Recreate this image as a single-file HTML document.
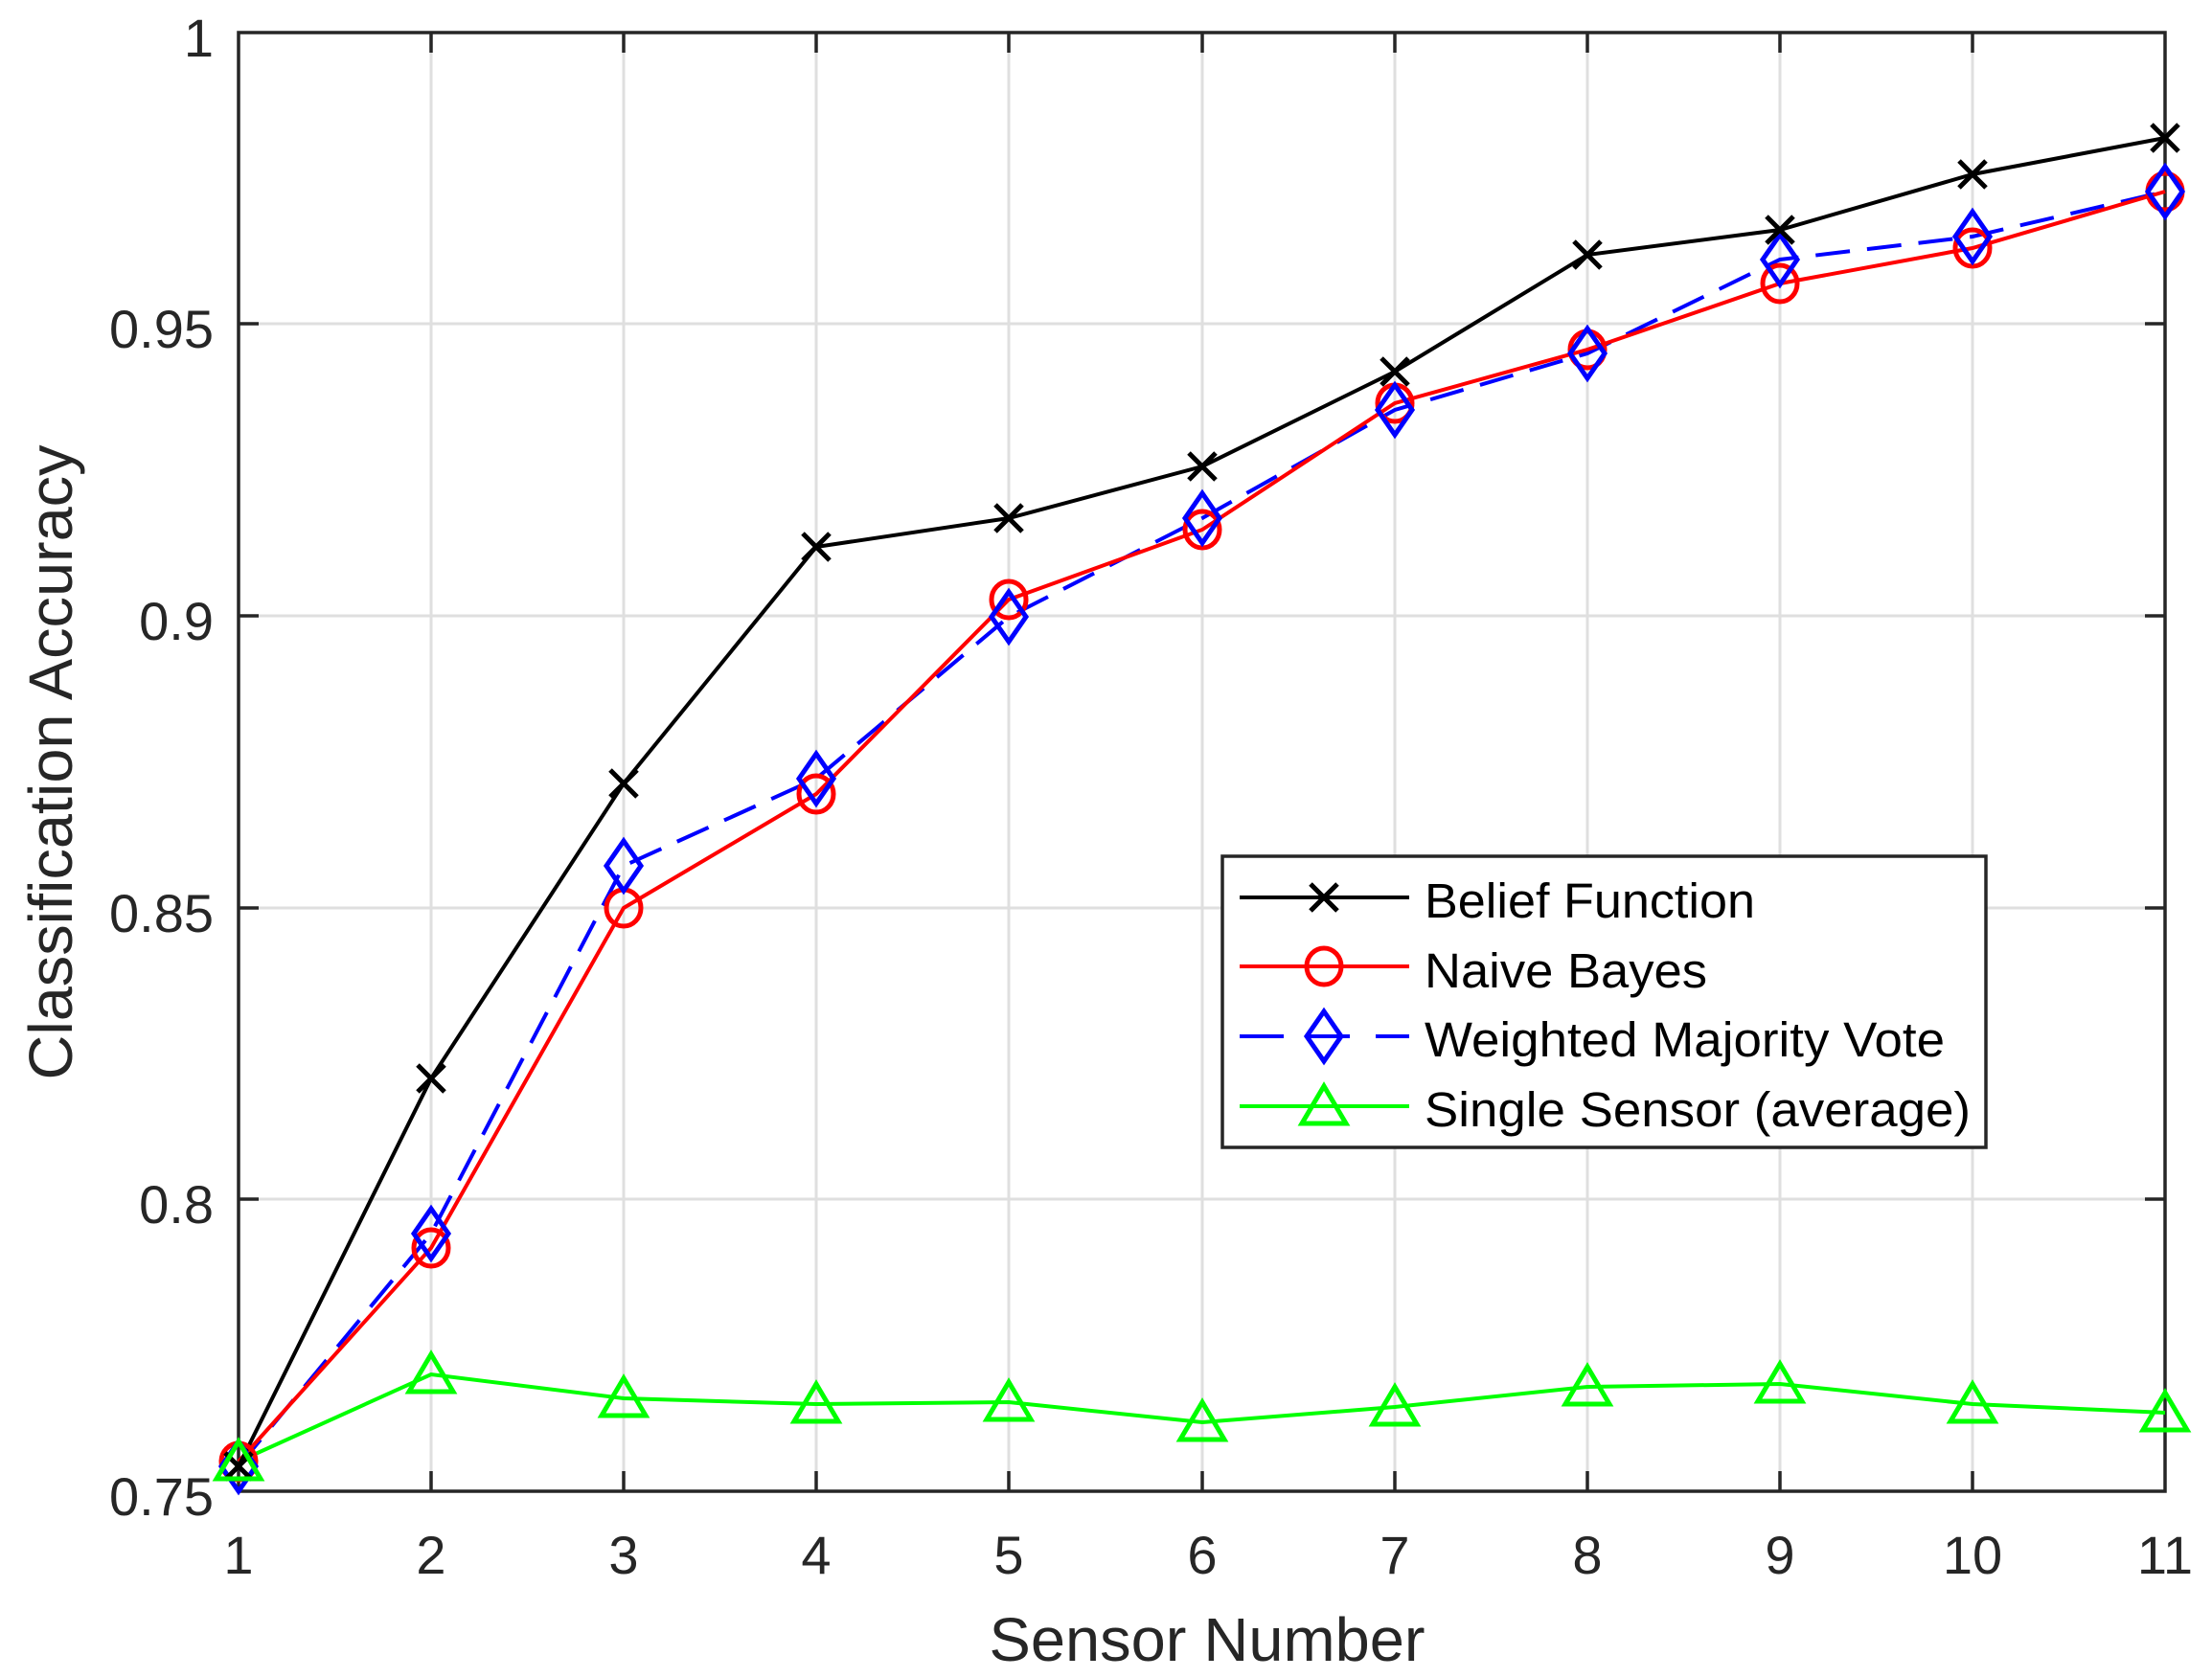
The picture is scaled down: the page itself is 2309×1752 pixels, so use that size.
<!DOCTYPE html>
<html><head><meta charset="utf-8"><style>html,body{margin:0;padding:0;background:#fff}svg{display:block}</style></head>
<body>
<svg width="2309" height="1752" viewBox="0 0 2309 1752" xmlns="http://www.w3.org/2000/svg" font-family="Liberation Sans, Arial, sans-serif">
<rect width="2309" height="1752" fill="#fff"/>
<g stroke="#dfdfdf" stroke-width="3">
<line x1="450" y1="34" x2="450" y2="1557"/><line x1="651" y1="34" x2="651" y2="1557"/><line x1="852" y1="34" x2="852" y2="1557"/><line x1="1053" y1="34" x2="1053" y2="1557"/><line x1="1255" y1="34" x2="1255" y2="1557"/><line x1="1456" y1="34" x2="1456" y2="1557"/><line x1="1657" y1="34" x2="1657" y2="1557"/><line x1="1858" y1="34" x2="1858" y2="1557"/><line x1="2059" y1="34" x2="2059" y2="1557"/>
<line x1="249" y1="1252" x2="2260" y2="1252"/><line x1="249" y1="948" x2="2260" y2="948"/><line x1="249" y1="643" x2="2260" y2="643"/><line x1="249" y1="338" x2="2260" y2="338"/>
</g>
<g stroke="#262626" stroke-width="3.5">
<line x1="450" y1="1557" x2="450" y2="1536"/><line x1="651" y1="1557" x2="651" y2="1536"/><line x1="852" y1="1557" x2="852" y2="1536"/><line x1="1053" y1="1557" x2="1053" y2="1536"/><line x1="1255" y1="1557" x2="1255" y2="1536"/><line x1="1456" y1="1557" x2="1456" y2="1536"/><line x1="1657" y1="1557" x2="1657" y2="1536"/><line x1="1858" y1="1557" x2="1858" y2="1536"/><line x1="2059" y1="1557" x2="2059" y2="1536"/>
<line x1="450" y1="34" x2="450" y2="55"/><line x1="651" y1="34" x2="651" y2="55"/><line x1="852" y1="34" x2="852" y2="55"/><line x1="1053" y1="34" x2="1053" y2="55"/><line x1="1255" y1="34" x2="1255" y2="55"/><line x1="1456" y1="34" x2="1456" y2="55"/><line x1="1657" y1="34" x2="1657" y2="55"/><line x1="1858" y1="34" x2="1858" y2="55"/><line x1="2059" y1="34" x2="2059" y2="55"/>
<line x1="249" y1="1252" x2="270" y2="1252"/><line x1="249" y1="948" x2="270" y2="948"/><line x1="249" y1="643" x2="270" y2="643"/><line x1="249" y1="338" x2="270" y2="338"/>
<line x1="2260" y1="1252" x2="2239" y2="1252"/><line x1="2260" y1="948" x2="2239" y2="948"/><line x1="2260" y1="643" x2="2239" y2="643"/><line x1="2260" y1="338" x2="2239" y2="338"/>
<rect x="249" y="34" width="2011" height="1523" fill="none"/>
</g>
<g fill="#262626" font-size="56" text-anchor="end">
<text x="223" y="1582">0.75</text><text x="223" y="1277">0.8</text><text x="223" y="973">0.85</text><text x="223" y="668">0.9</text><text x="223" y="363">0.95</text><text x="223" y="59">1</text>
</g>
<g fill="#262626" font-size="56" text-anchor="middle">
<text x="249" y="1643">1</text><text x="450" y="1643">2</text><text x="651" y="1643">3</text><text x="852" y="1643">4</text><text x="1053" y="1643">5</text><text x="1255" y="1643">6</text><text x="1456" y="1643">7</text><text x="1657" y="1643">8</text><text x="1858" y="1643">9</text><text x="2059" y="1643">10</text><text x="2260" y="1643">11</text>
</g>
<text x="1260" y="1734" fill="#262626" font-size="64" text-anchor="middle" textLength="455" lengthAdjust="spacingAndGlyphs">Sensor Number</text>
<text transform="translate(75,796) rotate(-90)" fill="#262626" font-size="64" text-anchor="middle" textLength="663" lengthAdjust="spacingAndGlyphs">Classification Accuracy</text>
<defs>
<g id="mx"><path d="M-14,-14L14,14M-14,14L14,-14" stroke="#000" stroke-width="5" fill="none"/></g>
<g id="mo"><ellipse cx="0" cy="0" rx="18" ry="19" stroke="#f00" stroke-width="5" fill="none"/></g>
<g id="md"><path d="M0,-26L18,0L0,26L-18,0Z" stroke="#00f" stroke-width="5" fill="none"/></g>
<g id="mt"><path d="M0,-21L23,18L-23,18Z" stroke="#0f0" stroke-width="5" fill="none"/></g>
</defs>
<polyline fill="none" stroke="#0f0" stroke-width="4" points="249,1526 450,1435 651,1460 852,1466 1053,1464 1255,1485 1456,1469 1657,1448 1858,1445 2059,1466 2260,1475"/>
<polyline fill="none" stroke="#00f" stroke-width="4" stroke-dasharray="36,18" points="249,1531 450,1288 651,904 852,813 1053,644 1255,541 1456,428 1657,369 1858,271 2059,247 2260,200"/>
<polyline fill="none" stroke="#f00" stroke-width="4" points="249,1526 450,1303 651,948 852,829 1053,626 1255,553 1456,421 1657,365 1858,296 2059,259 2260,200"/>
<polyline fill="none" stroke="#000" stroke-width="4" points="249,1531 450,1126 651,818 852,571 1053,541 1255,487 1456,388 1657,266 1858,240 2059,182 2260,144"/>
<g>
<use href="#mo" x="249" y="1526"/><use href="#mo" x="450" y="1303"/><use href="#mo" x="651" y="948"/><use href="#mo" x="852" y="829"/><use href="#mo" x="1053" y="626"/><use href="#mo" x="1255" y="553"/><use href="#mo" x="1456" y="421"/><use href="#mo" x="1657" y="365"/><use href="#mo" x="1858" y="296"/><use href="#mo" x="2059" y="259"/><use href="#mo" x="2260" y="200"/>
<use href="#md" x="249" y="1531"/><use href="#md" x="450" y="1288"/><use href="#md" x="651" y="904"/><use href="#md" x="852" y="813"/><use href="#md" x="1053" y="644"/><use href="#md" x="1255" y="541"/><use href="#md" x="1456" y="428"/><use href="#md" x="1657" y="369"/><use href="#md" x="1858" y="271"/><use href="#md" x="2059" y="247"/><use href="#md" x="2260" y="200"/>
<use href="#mx" x="249" y="1531"/><use href="#mx" x="450" y="1126"/><use href="#mx" x="651" y="818"/><use href="#mx" x="852" y="571"/><use href="#mx" x="1053" y="541"/><use href="#mx" x="1255" y="487"/><use href="#mx" x="1456" y="388"/><use href="#mx" x="1657" y="266"/><use href="#mx" x="1858" y="240"/><use href="#mx" x="2059" y="182"/><use href="#mx" x="2260" y="144"/>
<use href="#mt" x="249" y="1526"/><use href="#mt" x="450" y="1435"/><use href="#mt" x="651" y="1460"/><use href="#mt" x="852" y="1466"/><use href="#mt" x="1053" y="1464"/><use href="#mt" x="1255" y="1485"/><use href="#mt" x="1456" y="1469"/><use href="#mt" x="1657" y="1448"/><use href="#mt" x="1858" y="1445"/><use href="#mt" x="2059" y="1466"/><use href="#mt" x="2260" y="1475"/>
</g>
<rect x="1276" y="894" width="797" height="304" fill="#fff" stroke="#262626" stroke-width="3.5"/>
<line x1="1294" y1="937" x2="1471" y2="937" stroke="#000" stroke-width="4"/><use href="#mx" x="1382" y="937"/>
<line x1="1294" y1="1009" x2="1471" y2="1009" stroke="#f00" stroke-width="4"/><use href="#mo" x="1382" y="1009"/>
<g stroke="#00f" stroke-width="4"><line x1="1294" y1="1082" x2="1340" y2="1082"/><line x1="1364" y1="1082" x2="1409" y2="1082"/><line x1="1436" y1="1082" x2="1471" y2="1082"/></g><use href="#md" x="1382" y="1082"/>
<line x1="1294" y1="1155" x2="1471" y2="1155" stroke="#0f0" stroke-width="4"/><use href="#mt" x="1382" y="1155"/>
<g fill="#000" font-size="51">
<text x="1487" y="958" textLength="345" lengthAdjust="spacingAndGlyphs">Belief Function</text>
<text x="1487" y="1031" textLength="295" lengthAdjust="spacingAndGlyphs">Naive Bayes</text>
<text x="1487" y="1103" textLength="543" lengthAdjust="spacingAndGlyphs">Weighted Majority Vote</text>
<text x="1487" y="1176" textLength="570" lengthAdjust="spacingAndGlyphs">Single Sensor (average)</text>
</g>
</svg>
</body></html>
